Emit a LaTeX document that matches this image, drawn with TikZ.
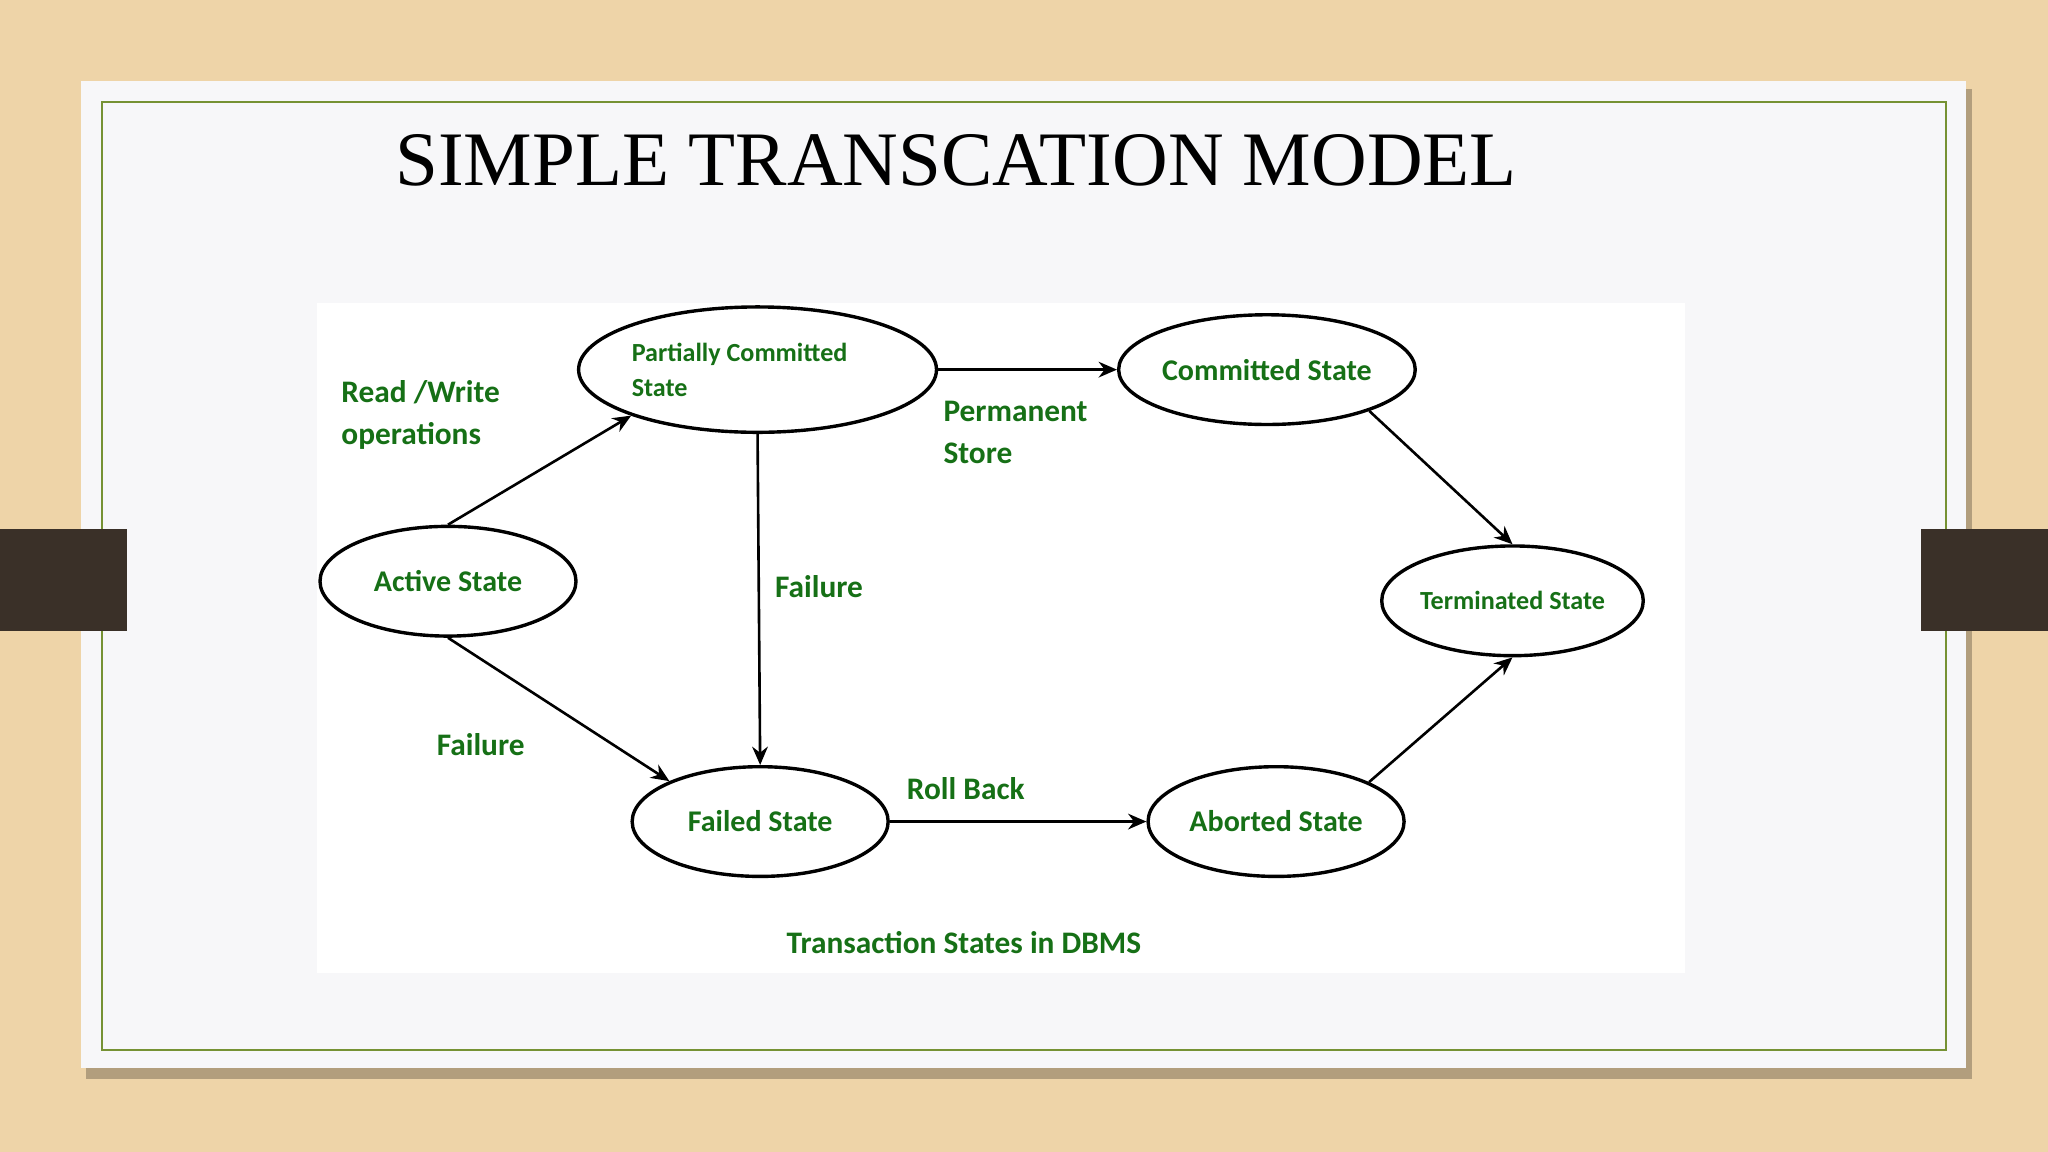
\documentclass[tikz,border=0pt]{standalone}
\usepackage{fontspec}
\setmainfont{Liberation Serif}
\newfontfamily\lab{Carlito}
\usetikzlibrary{shapes.geometric,arrows.meta}
\definecolor{wood}{RGB}{238,212,168}
\definecolor{tab}{RGB}{58,48,40}
\definecolor{slide}{RGB}{247,247,249}
\definecolor{frameg}{RGB}{118,146,52}
\definecolor{tg}{RGB}{22,112,22}
\tikzset{
 st/.style={ellipse,draw=black,line width=1.3pt,fill=white,inner sep=0pt,font=\lab\bfseries\fontsize{11.5}{14}\selectfont,text=tg},
 lb/.style={font=\lab\bfseries\fontsize{12}{16}\selectfont,text=tg,align=left,inner sep=0pt},
 ar/.style={-{Stealth[length=7pt,width=6pt]},line width=1pt}
}
\begin{document}
\begin{tikzpicture}[x=0.5pt,y=-0.5pt]
\useasboundingbox (0,0) rectangle (1568,882);
\fill[wood] (0,0) rectangle (1568,882);
\fill[black,opacity=0.25] (66,68) rectangle (1510,826);
\fill[slide] (62,62) rectangle (1505,818);
\draw[frameg,line width=0.8pt] (78,78) rectangle (1490,804);
\fill[tab] (0,405) rectangle (97,483);
\fill[tab] (1471,405) rectangle (1568,483);
\node[font=\fontsize{29.5}{32}\selectfont] (title) at (732,123) {SIMPLE TRANSCATION MODEL};
\fill[white] (243,232) rectangle (1290,745);
\node[st,minimum width=98pt,minimum height=42pt] (act) at (343,445) {Active State};
\node[st,minimum width=137pt,minimum height=48pt,align=left,font=\lab\bfseries\fontsize{10}{13.5}\selectfont] (pc) at (580,283) {Partially Committed\hspace*{0.8em}\\State\hspace*{7.5em}};
\node[st,minimum width=105pt,minimum height=42pt] (cm) at (970,283) {Committed State};
\node[st,minimum width=98pt,minimum height=42pt,font=\lab\bfseries\fontsize{10}{13}\selectfont] (tm) at (1158,460) {Terminated State};
\node[st,minimum width=98pt,minimum height=42pt] (fl) at (582,629) {Failed State};
\node[st,minimum width=98pt,minimum height=42pt] (ab) at (977,629) {Aborted State};
\draw[ar] (act.north) -- (pc.200);
\draw[ar] (pc.south) -- (fl.north);
\draw[ar] (pc.east) -- (cm.west);
\draw[ar] (cm.338) -- (tm.north);
\draw[ar] (act.south) -- (fl.156);
\draw[ar] (fl.east) -- (ab.west);
\draw[ar] (ab.23) -- (tm.south);
\node[lb,anchor=west] (l1) at (261,318) {Read /Write\\operations};
\node[lb,anchor=west] (l2) at (593,449) {Failure};
\node[lb,anchor=west] (l3) at (722,331) {Permanent\\Store};
\node[lb,anchor=west] (l4) at (334,570) {Failure};
\node[lb,anchor=west] (l5) at (694,604) {Roll Back};
\node[lb] (cap) at (738,722) {Transaction States in DBMS};
\end{tikzpicture}
\end{document}
